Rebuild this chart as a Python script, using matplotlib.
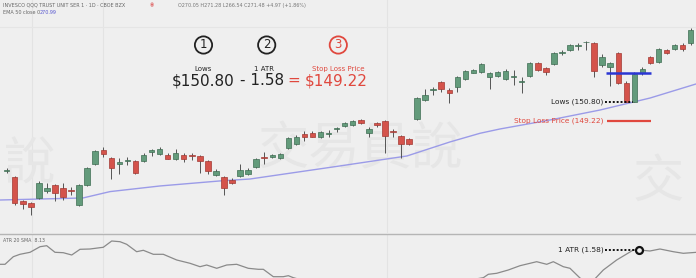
import matplotlib
matplotlib.use("Agg")
import matplotlib.pyplot as plt
from matplotlib.patches import Rectangle
import numpy as np

plt.rcParams['font.family'] = ['DejaVu Sans', 'Noto Sans CJK TC']

# ---------------- data ----------------
opens = [145.05, 144.53, 142.53, 142.36, 142.83, 143.36, 143.86, 143.66, 143.43, 142.22,
         143.88, 145.63, 146.80, 146.11, 145.61, 145.88, 145.86, 145.86, 146.63, 146.47,
         146.36, 146.08, 146.38, 146.38, 146.30, 145.86, 144.69, 144.51, 144.33, 144.61,
         144.80, 145.36, 146.24, 146.22, 146.11, 146.94, 147.30, 148.13, 148.24, 147.86,
         148.09, 148.55, 148.80, 148.91, 149.30, 148.24, 149.03, 149.22, 148.34, 147.97,
         147.72, 149.36, 150.97, 151.80, 152.43, 151.76, 152.08, 152.72, 153.24, 153.30,
         152.91, 152.97, 152.72, 152.88, 152.43, 152.97, 154.05, 153.61, 153.94, 154.88,
         155.13, 155.47, 155.76, 155.69, 153.88, 153.69, 154.86, 152.41, 150.84, 153.19,
         154.53, 154.16, 155.13, 155.22, 155.55, 155.69]
highs = [145.30, 144.63, 142.63, 142.47, 144.22, 144.08, 143.97, 144.08, 143.74, 143.97,
         145.38, 146.80, 147.03, 146.22, 146.11, 146.24, 145.97, 146.53, 146.86, 147.01,
         146.53, 146.91, 146.58, 146.58, 146.38, 145.97, 145.18, 144.63, 144.47, 145.63,
         145.28, 146.13, 146.66, 146.43, 146.55, 147.88, 148.01, 148.41, 148.34, 148.38,
         148.47, 148.74, 149.09, 149.26, 149.34, 148.74, 149.16, 149.30, 148.53, 148.05,
         147.80, 151.22, 151.88, 152.08, 152.51, 151.97, 152.97, 153.47, 153.55, 154.05,
         153.34, 153.38, 153.51, 153.47, 152.88, 154.13, 154.13, 153.72, 154.97, 155.13,
         155.63, 155.74, 155.91, 155.80, 154.80, 154.13, 154.97, 152.51, 153.30, 153.74,
         154.63, 155.34, 155.22, 155.63, 155.68, 156.93]
lows = [144.88, 142.22, 141.88, 141.38, 142.72, 143.19, 142.55, 142.63, 143.05, 142.13,
        143.80, 145.55, 146.19, 144.36, 144.80, 145.55, 144.80, 145.80, 146.30, 146.38,
        146.03, 145.97, 145.83, 145.97, 144.86, 144.80, 144.59, 143.05, 143.97, 144.53,
        144.72, 145.26, 145.63, 146.13, 146.05, 146.84, 147.22, 147.58, 147.84, 147.76,
        147.91, 148.33, 148.72, 148.80, 148.93, 147.91, 148.74, 146.53, 147.91, 146.11,
        147.22, 149.26, 150.88, 151.38, 151.63, 150.72, 151.66, 152.63, 153.18, 153.22,
        151.86, 152.88, 152.63, 152.22, 151.55, 152.88, 153.38, 153.05, 153.88, 154.68,
        155.05, 155.13, 155.13, 152.91, 153.74, 152.13, 152.26, 150.80, 150.80, 153.09,
        153.97, 154.05, 154.80, 155.13, 155.09, 155.59]
closes = [145.13, 142.36, 142.28, 142.08, 144.08, 143.61, 143.19, 142.91, 143.34, 143.86,
          145.28, 146.72, 146.47, 145.33, 145.78, 145.99, 144.91, 146.41, 146.80, 146.91,
          146.08, 146.58, 146.05, 146.30, 145.91, 145.08, 145.08, 143.63, 144.03, 145.13,
          145.09, 146.03, 146.11, 146.36, 146.47, 147.78, 147.91, 147.86, 147.91, 148.28,
          148.18, 148.63, 149.03, 149.19, 149.03, 148.53, 148.86, 147.97, 148.26, 147.30,
          147.30, 151.11, 151.38, 151.91, 151.87, 151.59, 152.88, 153.38, 153.47, 153.97,
          153.24, 153.28, 153.41, 152.97, 152.51, 154.03, 153.47, 153.34, 154.88, 154.97,
          155.55, 155.55, 155.84, 153.41, 154.53, 154.03, 152.36, 150.84, 153.13, 153.53,
          154.08, 155.24, 154.91, 155.55, 155.22, 156.80]

# EMA 50 line, read at points (bar index, price)
ema_idx = [0.17, 10.48, 13.84, 20.05, 27.51, 31.24, 42.42, 50.74, 56.09, 59.81,
           62.3, 68.52, 74.73, 80.95, 86.66]
ema_val = [142.63, 142.80, 143.33, 143.80, 144.22, 144.38, 145.47, 146.30, 147.47, 148.19,
           148.55, 149.30, 150.13, 151.13, 152.30]

# ATR line, read at points (bar index, value)
atr_idx = [0.17, 0.79, 1.82, 2.65, 3.90, 5.14, 5.97, 7.00, 8.03, 9.08, 10.11, 11.35, 12.59,
           13.0, 14.05, 15.08, 15.91, 17.15, 17.98, 19.22, 20.46, 22.13, 23.78, 25.02, 25.85,
           27.10, 28.34, 29.58, 31.02, 32.27, 32.89, 34.13, 35.37, 36.0, 36.62, 39.93, 47.39,
           54.85, 58.57, 60.23, 60.85, 61.89, 63.33, 64.79, 66.86, 68.11, 68.93, 70.17, 71.0,
           72.24, 73.49, 75.14, 76.80, 78.87, 79.61, 80.94, 82.18, 83.84, 85.08, 86.75]
atr_val = [1.294, 1.294, 1.446, 1.494, 1.534, 1.646, 1.666, 1.534, 1.526, 1.48, 1.594, 1.60,
           1.626, 1.634, 1.76, 1.746, 1.694, 1.546, 1.574, 1.494, 1.494, 1.38, 1.314, 1.246,
           1.28, 1.214, 1.28, 1.294, 1.214, 1.194, 1.194, 1.046, 1.046, 1.066, 1.026, 0.88,
           0.78, 0.88, 0.98, 1.026, 1.094, 1.114, 1.18, 1.266, 1.346, 1.294, 1.346, 1.246,
           1.214, 1.02, 0.90, 1.18, 1.38, 1.58, 1.58, 1.56, 1.60, 1.546, 1.514, 1.534]

lows_level = 150.80
atr_value = 1.58
stop_level = 149.22
entry_level = 153.19

# ---------------- layout ----------------
W, H = 696, 278
BG = '#efefef'
GREEN, GREEN_E = '#639b7b', '#3f6d53'
RED, RED_E = '#d4534b', '#a13a34'
RED_TXT = '#e0483e'
DARK = '#222222'

fig = plt.figure(figsize=(W / 100, H / 100), dpi=100, facecolor=BG)

def fx(px):
    return px / W

def fy(py):
    return 1 - py / H

ax = fig.add_axes([0, fy(233), 1, 233 / H])
axa = fig.add_axes([0, 0, 1, 44 / H])
for a in (ax, axa):
    a.set_facecolor(BG)
    for s in a.spines.values():
        s.set_visible(False)
    a.set_xticks([])
    a.set_yticks([])
    a.set_xlim(0.167, 86.66)

ax.set_ylim(139.88, 159.3)
axa.set_ylim(1.02, 1.90)

# faint grid
for gx in [4.1, 12.97, 48.26]:
    ax.axvline(gx, color='#e3e3e3', lw=0.8, zorder=0)
    axa.axvline(gx, color='#e3e3e3', lw=0.8, zorder=0)
fig.add_artist(plt.Line2D([0, 1], [fy(27), fy(27)], color='#e5e5e5', lw=0.8))

# watermark (behind the candles)
for (cx, cy, txt) in [(360, 150, '交易員說'), (30, 165, '說'), (658, 182, '交')]:
    ax.text(fx(cx), fy(cy), txt, transform=fig.transFigure, family=['Noto Sans CJK TC'],
            fontsize=37, color='#e6e6e6', ha='center', va='center', zorder=0.5)

# candles
bw = 0.68
xs = np.arange(1, len(opens) + 1)
for xi, o, h, l, c in zip(xs, opens, highs, lows, closes):
    up = c >= o
    fc = GREEN if up else RED
    ec = GREEN_E if up else RED_E
    ax.vlines(xi, l, h, color='#555555', lw=0.7, zorder=2)
    bot = min(o, c)
    ht = max(abs(c - o), 0.06)
    ax.add_patch(Rectangle((xi - bw / 2, bot), bw, ht, fc=fc, ec=ec, lw=0.5, zorder=3))

# EMA
ax.plot(ema_idx, ema_val, color='#9b9be8', lw=1.0, zorder=1)

# annotations on price
ax.hlines(entry_level, 75.47, 81.07, color='#2b36d4', lw=1.8, zorder=5)
ax.hlines(lows_level, 75.35, 78.83, color='#111111', lw=1.4, linestyles=(0, (1, 1)), zorder=5)
ax.text(75.2, lows_level, 'Lows (150.80)', fontsize=5.3, color=DARK, ha='right', va='center')
ax.hlines(stop_level, 75.6, 81.07, color=RED_TXT, lw=1.6, zorder=5)
ax.text(75.2, stop_level, 'Stop Loss Price (149.22)', fontsize=5.3, color=RED_TXT,
        ha='right', va='center')

# ATR panel
fig.add_artist(plt.Line2D([0, 1], [fy(234), fy(234)], color='#b5b5b5', lw=1.0))
axa.plot(atr_idx, atr_val, color='#8a8a8a', lw=0.9)
axa.hlines(atr_value, 75.35, 79.2, color='#111111', lw=1.4, linestyles=(0, (1, 1)))
axa.plot([79.61], [atr_value], marker='o', ms=5, mfc=BG, mec='#111111', mew=1.6)
axa.text(75.2, atr_value, '1 ATR (1.58)', fontsize=5.3, color=DARK, ha='right', va='center')
fig.text(fx(3), fy(241), 'ATR 20 SMA  8.13', fontsize=3.4, color='#666666', va='center')

# header
fig.text(fx(3), fy(5), 'INVESCO QQQ TRUST UNIT SER 1 · 1D · CBOE BZX', fontsize=3.5,
         color='#666666', va='center')
fig.text(fx(150), fy(5), '◉', fontsize=3.5, color='#e07070', va='center')
fig.text(fx(178), fy(5), 'O270.05 H271.28 L266.54 C271.48 +4.97 (+1.86%)', fontsize=3.5,
         color='#777777', va='center')
fig.text(fx(3), fy(13), 'EMA 50 close 0', fontsize=3.5, color='#666666', va='center')
fig.text(fx(40), fy(13), '270.99', fontsize=3.5, color='#5a5ad0', va='center')

# formula annotation
for (cx, num, col) in [(203.5, '1', DARK), (266.7, '2', DARK), (338.3, '3', RED_TXT)]:
    fig.text(fx(cx), fy(45), num, fontsize=8.5, color=col, ha='center', va='center',
             bbox=dict(boxstyle='circle,pad=0.18', fc='none', ec=col, lw=1.3))
fig.text(fx(203), fy(69), 'Lows', fontsize=5, color=DARK, ha='center', va='center')
fig.text(fx(264), fy(69), '1 ATR', fontsize=5, color=DARK, ha='center', va='center')
fig.text(fx(338), fy(69), 'Stop Loss Price', fontsize=5, color=RED_TXT, ha='center', va='center')
fig.text(fx(171.5), fy(80.5), '$150.80', fontsize=11, color=DARK, ha='left', va='center')
fig.text(fx(240), fy(80.5), '- 1.58', fontsize=11, color=DARK, ha='left', va='center')
fig.text(fx(294), fy(80.5), '=', fontsize=11, color=RED_TXT, ha='center', va='center')
fig.text(fx(305), fy(80.5), '$149.22', fontsize=11, color=RED_TXT, ha='left', va='center')

fig.savefig('out.png', dpi=100, facecolor=BG)
